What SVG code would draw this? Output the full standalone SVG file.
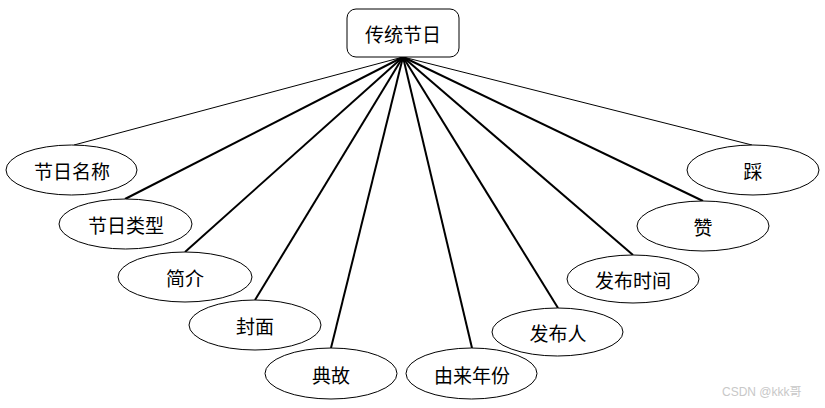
<svg xmlns="http://www.w3.org/2000/svg" width="825" height="408" viewBox="0 0 825 408">
<style>
.n{fill:#fff;stroke:#000;stroke-width:1}
.t{font-family:"Noto Sans CJK SC","Noto Sans",sans-serif;font-size:19px;fill:#000;text-anchor:middle;dominant-baseline:central}
.c line{stroke:#000;stroke-width:2}
.c line.th{stroke-width:1}
.wm{font-family:"Liberation Sans","Noto Sans CJK SC",sans-serif;font-size:12px;fill:#c8c8c8}
</style>
<rect width="825" height="408" fill="#fff"/>
<g class="c" id="connectors">
<line class="th" x1="403" y1="57" x2="74" y2="145"/>
<line x1="403" y1="57" x2="125" y2="199"/>
<line x1="403" y1="57" x2="185" y2="252"/>
<line x1="403" y1="57" x2="255" y2="300"/>
<line x1="403" y1="57" x2="331" y2="348"/>
<line x1="403" y1="57" x2="472" y2="348"/>
<line x1="403" y1="57" x2="558" y2="308"/>
<line x1="403" y1="57" x2="633" y2="255"/>
<line x1="403" y1="57" x2="703" y2="201"/>
<line class="th" x1="403" y1="57" x2="752" y2="145"/>
</g>
<g id="root"><rect class="n" x="347" y="9" width="112" height="48" rx="9"/><text class="t" x="403" y="33">传统节日</text></g>
<g id="n1"><ellipse class="n" cx="71.5" cy="170" rx="65.5" ry="25"/><text class="t" x="72" y="170">节日名称</text></g>
<g id="n2"><ellipse class="n" cx="125.5" cy="224" rx="66.5" ry="25"/><text class="t" x="126" y="224">节日类型</text></g>
<g id="n3"><ellipse class="n" cx="185" cy="277" rx="67" ry="25"/><text class="t" x="185" y="277">简介</text></g>
<g id="n4"><ellipse class="n" cx="255" cy="325" rx="66" ry="25"/><text class="t" x="255" y="325">封面</text></g>
<g id="n5"><ellipse class="n" cx="331" cy="373.5" rx="66" ry="25.5"/><text class="t" x="331" y="374">典故</text></g>
<g id="n6"><ellipse class="n" cx="471.5" cy="373.5" rx="65.5" ry="25.5"/><text class="t" x="472" y="374">由来年份</text></g>
<g id="n7"><ellipse class="n" cx="557.5" cy="332" rx="65.5" ry="24"/><text class="t" x="558" y="332">发布人</text></g>
<g id="n8"><ellipse class="n" cx="633" cy="279" rx="66" ry="24"/><text class="t" x="633" y="279">发布时间</text></g>
<g id="n9"><ellipse class="n" cx="703" cy="226" rx="66" ry="25"/><text class="t" x="703" y="226">赞</text></g>
<g id="n10"><ellipse class="n" cx="753" cy="170" rx="66" ry="25"/><text class="t" x="753" y="170">踩</text></g>
<text class="wm" x="722" y="396">CSDN @kkk哥</text>
</svg>
